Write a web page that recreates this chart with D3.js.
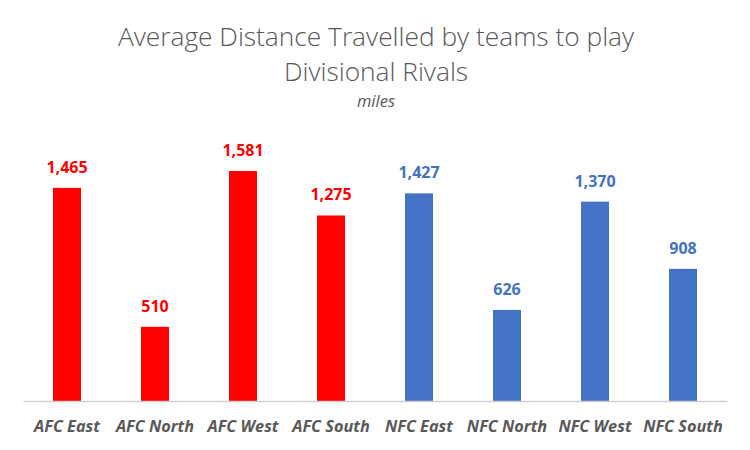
<!DOCTYPE html>
<html><head><meta charset="utf-8">
<script src="https://cdn.jsdelivr.net/npm/d3@7/dist/d3.min.js"></script>
<style>body{margin:0;background:#fff}svg{display:block}</style>
</head><body><svg id="c" width="750" height="450"></svg>
<script>
const categories = ["AFC East","AFC North","AFC West","AFC South","NFC East","NFC North","NFC West","NFC South"];
const values = [1465, 510, 1581, 1275, 1427, 626, 1370, 908];
const conference = ["AFC","AFC","AFC","AFC","NFC","NFC","NFC","NFC"];
const colors = {AFC:"#FF0000", NFC:"#4472C4"};

const svg = d3.select("#c");
const x = d3.scaleBand().domain(categories).range([23,727]).paddingInner(0.682).paddingOuter(0.341);
const y = d3.scaleLinear().domain([0,2000]).range([401,110]);
const font = "'Open Sans', 'Liberation Sans', sans-serif";

svg.append("text").attr("x",376).attr("y",46).attr("text-anchor","middle")
  .attr("font-family",font).attr("font-weight",300).attr("font-size",26.3).attr("fill","#595959")
  .text("Average Distance Travelled by teams to play");
svg.append("text").attr("x",376).attr("y",81).attr("text-anchor","middle")
  .attr("font-family",font).attr("font-weight",300).attr("font-size",26.3).attr("fill","#595959")
  .text("Divisional Rivals");
svg.append("text").attr("x",376).attr("y",107).attr("text-anchor","middle")
  .attr("font-family",font).attr("font-style","italic").attr("font-size",16.5).attr("fill","#595959")
  .text("miles");

svg.selectAll("rect.bar").data(categories).join("rect").attr("class","bar")
  .attr("x",d=>x(d)).attr("width",x.bandwidth())
  .attr("y",(d,i)=>y(values[i])).attr("height",(d,i)=>y(0)-y(values[i]))
  .attr("fill",(d,i)=>colors[conference[i]]);

svg.selectAll("text.val").data(categories).join("text").attr("class","val")
  .attr("x",d=>x(d)+x.bandwidth()/2).attr("y",(d,i)=>y(values[i])-15)
  .attr("text-anchor","middle").attr("font-family",font).attr("font-weight",700).attr("font-size",16)
  .attr("fill",(d,i)=>colors[conference[i]])
  .text((d,i)=>d3.format(",")(values[i]));

const ax = svg.append("g").attr("transform","translate(0,401)").call(d3.axisBottom(x).tickSize(0).tickPadding(0));
ax.select(".domain").attr("stroke","#d0d0d0").attr("stroke-width",1.5);
ax.selectAll(".tick text").attr("dy",null).attr("y",31)
  .attr("font-family",font).attr("font-weight",700).attr("font-style","italic").attr("font-size",16.3).attr("fill","#595959");
</script></body></html>
